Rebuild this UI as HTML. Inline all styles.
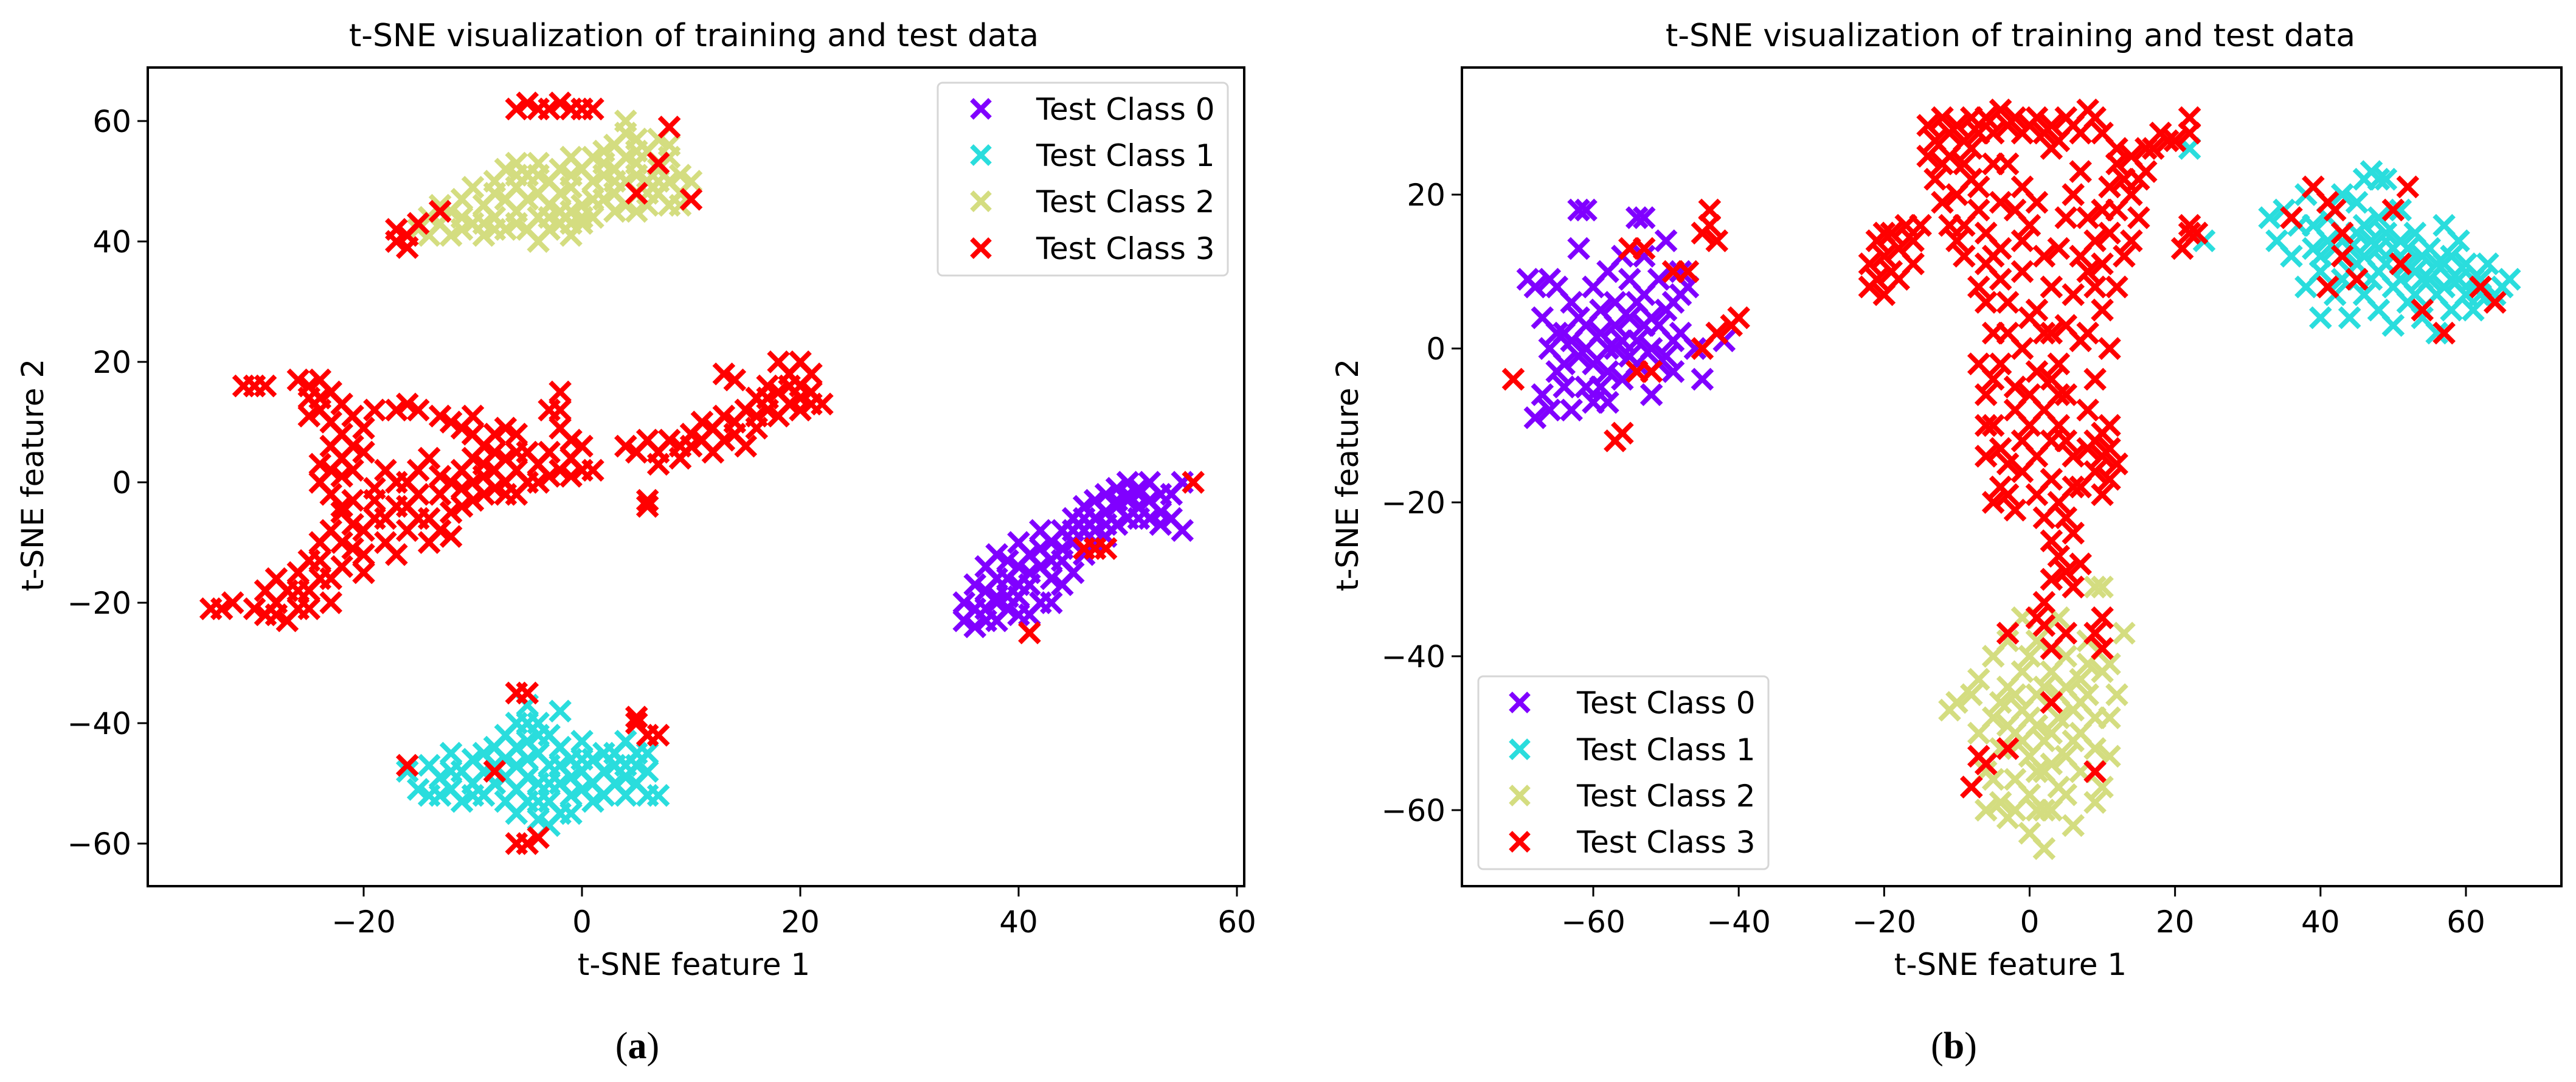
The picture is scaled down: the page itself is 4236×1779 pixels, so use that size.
<!DOCTYPE html>
<html><head><meta charset="utf-8"><style>
html,body{margin:0;padding:0;background:#fff;}
svg text{font-family:"DejaVu Sans","Liberation Sans",sans-serif;fill:#000;}
</style></head>
<body>
<svg id="fig" xmlns="http://www.w3.org/2000/svg" width="4236" height="1774" viewBox="0 0 4236 1774">
<rect width="4236" height="1774" fill="#fff"/>
</svg>
<script>
// ---------- Panel (a) data ----------
const aXTicks = [-20, 0, 20, 40, 60];
const aYTicks = [-60, -40, -20, 0, 20, 40, 60];
const aClass0 = [[35,-23],[35,-20],[36,-24],[36,-17],[37,-21],[37,-14],[38,-19],[38,-12],[38,-23],[39,-16],[39,-21],[40,-10],[40,-14],[40,-19],[41,-12],[41,-17],[41,-22],[42,-8],[42,-14],[42,-20],[43,-10],[43,-16],[44,-8],[44,-13],[45,-6],[45,-10],[45,-15],[46,-4],[46,-8],[46,-12],[47,-6],[47,-10],[48,-2],[48,-5],[48,-9],[49,-1],[49,-4],[49,-7],[50,0],[50,-3],[50,-6],[51,-1],[51,-4],[52,0],[52,-3],[52,-6],[53,-5],[54,-2],[54,-6],[55,-8],[55,0],[44,-17],[43,-20],
[36,-21],[37,-18],[38,-16],[39,-13],[39,-19],[40,-22],[41,-15],[42,-11],[43,-13],[44,-11],[45,-8],[46,-6],[47,-3],[47,-8],[48,-7],[49,-3],[50,-2],[51,-2],[51,-6],[53,-2],[53,-7],[40,-17],[38,-20],[37,-23]];
const aClass1 = [[-16,-48],[-15,-51],[-14,-47],[-14,-52],[-13,-49],[-12,-45],[-12,-51],[-11,-48],[-11,-53],[-10,-46],[-10,-50],[-9,-52],[-9,-48],[-8,-44],[-8,-50],[-7,-46],[-7,-42],[-7,-53],[-6,-40],[-6,-47],[-6,-51],[-6,-55],[-5,-37],[-5,-43],[-5,-49],[-5,-53],[-4,-40],[-4,-45],[-4,-50],[-4,-56],[-3,-42],[-3,-47],[-3,-53],[-2,-38],[-2,-44],[-2,-50],[-2,-55],[-1,-46],[-1,-52],[0,-43],[0,-48],[0,-51],[1,-46],[1,-50],[2,-48],[2,-52],[3,-45],[3,-50],[4,-43],[4,-47],[4,-52],[5,-45],[5,-50],[6,-48],[6,-52],[7,-52],[-3,-57],
[-13,-52],[-12,-48],[-10,-52],[-9,-45],[-8,-47],[-7,-49],[-6,-44],[-5,-46],[-4,-42],[-3,-50],[-2,-47],[-1,-49],[0,-46],[1,-53],[2,-45],[3,-47],[4,-49],[5,-47],[6,-45],[-4,-53],[-1,-55],[-5,-40]];
const aClass2 = [[-15,42],[-14,44],[-12,41],[-12,45],[-11,47],[-10,43],[-10,49],[-9,41],[-9,46],[-8,50],[-8,44],[-7,52],[-7,47],[-7,42],[-6,53],[-6,49],[-6,45],[-5,51],[-5,47],[-5,42],[-4,53],[-4,44],[-4,40],[-3,50],[-3,46],[-3,42],[-2,52],[-2,48],[-2,43],[-1,54],[-1,45],[-1,41],[0,52],[0,46],[0,43],[1,54],[1,50],[1,44],[2,55],[2,51],[2,47],[3,56],[3,52],[3,48],[3,45],[4,58],[4,54],[4,50],[4,46],[5,57],[5,53],[5,51],[6,55],[6,50],[6,46],[7,57],[7,52],[7,48],[8,54],[8,50],[8,46],[9,51],[9,48],[10,50],[-13,43],[-11,42],[-8,48],[-1,49],[5,45],[4,60],
[-14,41],[-13,46],[-11,44],[-9,43],[-8,42],[-6,43],[-6,51],[-4,48],[-4,51],[-3,44],[-2,45],[-1,43],[-1,51],[0,44],[1,47],[2,53],[3,50],[5,55],[6,48],[7,50],[8,56],[9,46]];
const aClass3 = [[-6,62],[-5,63],[-4,62],[-3,62],[-2,63],[-1,62],[0,62],[1,62],[-17,40],[-17,42],[-16,41],[-16,39],[-15,43],[-13,45],[5,48],[7,53],[8,59],[10,47],
[-34,-21],[-33,-21],[-32,-20],[-30,-21],[-29,-18],[-29,-22],[-28,-16],[-28,-20],[-27,-23],[-27,-18],[-26,-15],[-26,-21],[-25,-13],[-25,-18],[-24,-10],[-24,-16],[-23,-20],[-23,-8],[-22,-14],[-22,-5],[-21,-11],[-21,-3],[-20,-8],[-20,-15],[-19,-6],[-19,-1],[-18,-10],[-18,2],[-17,-4],[-17,-12],[-16,0],[-16,-8],[-15,2],[-15,-6],[-14,-10],[-14,4],[-13,-2],[-13,-8],[-12,0],[-12,-9],[-11,2],[-11,-4],[-10,4],[-10,0],[-9,6],[-9,-2],[-8,2],[-8,8],[-7,0],[-7,4],[-6,2],[-6,-2],[-6,8],[-5,0],[-5,5],[-4,3],[-3,5],[-3,12],[-2,15],[-2,9],[-2,2],[-1,4],[0,2],[0,6],[1,2],
[-31,16],[-30,16],[-29,16],[-26,17],[-25,16],[-25,14],[-24,17],[-24,12],[-23,15],[-23,10],[-22,13],[-22,8],[-21,11],[-21,6],[-20,9],[-24,3],[-24,0],[-23,2],[-23,-2],[-22,1],[-22,-4],[-17,12],[-16,13],[-15,12],[-13,11],[-12,10],[-11,9],[-10,8],[-10,11],[-7,9],[-8,-1],
[4,6],[5,5],[6,7],[7,5],[7,3],[8,7],[9,6],[10,8],[11,10],[12,5],[12,9],[13,11],[13,7],[14,10],[15,6],[15,12],[16,14],[16,9],[17,16],[17,12],[18,20],[18,15],[19,18],[19,13],[20,20],[20,16],[21,15],[21,18],[22,13],[13,18],[14,17],[6,-3],[6,-4],[20,12],[18,11],
[-28,-22],[-26,-18],[-25,-21],[-24,-13],[-23,-16],[-22,-10],[-21,-7],[-20,-12],[-19,-3],[-18,-6],[-17,0],[-16,-4],[-15,-2],[-14,-6],[-13,1],[-12,-5],[-11,-1],[-10,-3],[-9,1],[-8,5],[-7,-2],[-6,5],[-4,0],[-3,1],[-1,1],[-24,14],[-23,6],[-22,4],[-21,2],[-20,5],[-19,12],[-9,3],[-25,11],[-2,12],[-1,7],[9,4],[11,7],[14,8],[16,11],[17,14],[19,16],[20,14],[21,13],[10,6],
[46,-11],[47,-11],[48,-11],[41,-25],[56,0],
[-16,-47],[-8,-48],[-6,-35],[-5,-35],[5,-39],[5,-40],[6,-42],[7,-42],[-6,-60],[-5,-60],[-4,-59]];

// ---------- Panel (b) data ----------
const bXTicks = [-60, -40, -20, 0, 20, 40, 60];
const bYTicks = [-60, -40, -20, 0, 20];
const bClass0 = [[-62,18],[-61,18],[-54,17],[-53,17],[-62,13],[-69,9],[-68,8],[-66,9],[-65,8],[-67,4],[-66,0],[-65,-3],[-67,-6],[-68,-9],[-66,-8],[-64,-5],[-64,2],[-63,6],[-62,-1],[-62,4],[-61,0],[-60,8],[-60,-7],[-59,2],[-58,10],[-58,-3],[-57,6],[-57,0],[-56,12],[-56,-4],[-55,4],[-55,9],[-54,1],[-54,-2],[-53,7],[-53,12],[-52,0],[-52,-6],[-51,3],[-51,9],[-50,-1],[-50,14],[-49,6],[-49,-3],[-48,2],[-48,10],[-47,8],[-46,0],[-45,-4],[-43,2],[-42,1],[-63,-8],[-59,-5],
[-65,2],[-64,-2],[-63,1],[-61,3],[-60,-2],[-59,5],[-58,0],[-57,3],[-56,1],[-55,-1],[-54,6],[-53,3],[-52,4],[-51,-2],[-50,5],[-49,1],[-48,7],[-61,-5],[-58,-7]];
const bClass1 = [[33,17],[34,14],[35,18],[36,12],[37,16],[38,8],[38,20],[39,13],[40,4],[40,10],[41,17],[42,7],[42,13],[43,20],[44,4],[44,10],[45,15],[46,7],[46,12],[47,23],[48,5],[48,10],[48,17],[49,22],[50,3],[50,8],[50,13],[51,18],[52,6],[52,11],[53,15],[54,4],[54,9],[55,13],[56,2],[56,7],[57,11],[58,5],[58,9],[59,14],[60,7],[60,11],[61,5],[62,9],[63,11],[64,7],[65,8],[66,9],[45,19],[47,14],[53,10],[57,16],[24,14],[22,26],
[39,16],[40,12],[41,14],[43,9],[44,13],[45,11],[46,16],[47,9],[48,13],[49,11],[49,15],[51,9],[51,14],[52,13],[53,7],[54,12],[55,9],[56,11],[57,8],[58,12],[59,9],[61,9],[62,7],[48,22],[46,22]];
const bClass2 = [[-11,-47],[-10,-46],[-8,-45],[-7,-43],[-7,-50],[-6,-55],[-5,-40],[-5,-48],[-4,-59],[-4,-52],[-3,-44],[-3,-38],[-2,-50],[-2,-56],[-2,-60],[-1,-42],[-1,-47],[-1,-35],[0,-53],[0,-58],[0,-63],[1,-45],[1,-49],[1,-38],[2,-55],[2,-60],[2,-65],[3,-42],[3,-50],[4,-45],[4,-35],[4,-57],[5,-40],[5,-53],[6,-47],[6,-62],[7,-43],[7,-50],[7,-55],[8,-38],[8,-45],[9,-31],[9,-52],[10,-42],[10,-57],[11,-48],[11,-53],[12,-45],[13,-37],[-8,-57],[-6,-60],[-3,-61],[9,-59],
[-4,-46],[-3,-49],[-2,-45],[-1,-51],[0,-48],[0,-40],[1,-55],[2,-44],[2,-51],[3,-54],[4,-48],[5,-44],[5,-58],[6,-51],[7,-46],[8,-41],[9,-48],[10,-31],[11,-41],[-5,-56],[1,-60],[3,-60]];
const bClass3 = [[-71,-4],[-57,-12],[-56,-11],[-55,13],[-53,13],[-52,-3],[-54,-3],[-49,10],[-47,10],[-45,15],[-44,16],[-44,18],[-43,14],[-43,2],[-41,3],[-40,4],[-45,0],
[36,17],[39,21],[41,19],[42,18],[43,15],[43,12],[41,8],[45,9],[51,11],[50,18],[52,21],[54,5],[57,2],[62,8],[64,6],
[-8,-57],[-7,-53],[-6,-54],[-3,-52],[-3,-37],[3,-39],[3,-46],[5,-37],[9,-55],[9,-37],[10,-35],[10,-39],
[-14,29],[-13,27],[-12,30],[-11,28],[-10,29],[-9,27],[-8,30],[-7,28],[-6,30],[-5,28],[-4,31],[-3,29],[-2,30],[-1,28],[0,29],[1,30],[2,28],[3,29],[4,27],[5,30],[6,29],[7,28],[8,31],[9,30],[10,28],[12,26],[14,25],[16,26],[18,28],[19,27],[20,27],[22,28],[22,30],
[-14,25],[-13,22],[-12,19],[-11,16],[-10,14],[-9,12],[-12,24],[-15,16],[-16,14],[-17,16],[-18,13],[-19,10],[-20,12],[-21,9],[-22,8],[-21,14],[-20,7],[-19,15],[-18,9],[-22,11],
[-8,22],[-7,18],[-6,15],[-5,12],[-4,9],[-3,6],[-2,18],[-3,24],[-1,21],[0,16],[1,19],[2,12],[3,8],[-6,6],[-5,2],[-4,-2],[-6,-6],[-5,-10],[-6,-14],[-4,-18],[-5,-20],[-2,-21],[-3,-15],[-2,-5],[-1,0],[0,4],[1,-3],[2,-8],[3,-12],[0,-10],[-1,-16],[1,-19],[2,-22],[3,-17],[4,-2],[5,3],[6,7],[5,-6],[7,1],[8,10],[9,14],[10,18],[11,21],[12,24],[13,22],[14,20],[15,17],[16,23],[10,5],[11,0],[12,8],[13,12],[9,-4],[8,-8],[9,-12],[10,-14],[11,-10],[11,-17],[10,-19],[12,-15],[6,-14],[4,-10],[7,-18],[5,-22],[3,-25],[4,-27],[5,-29],[6,-31],[7,-28],[2,-33],[1,-35],[4,13],[-1,10],[22,15],[23,15],[21,13],[22,16],[4,-6],[2,2],[7,12],[6,20],[5,17],[3,26],[-9,24],[-10,20],[7,23],
[-11,25],[-8,26],[-5,24],[-7,21],[-4,19],[-6,11],[-7,8],[-5,-4],[-7,-2],[-6,-10],[-4,-13],[-3,-19],[-1,-12],[0,-6],[1,5],[3,2],[3,-4],[5,-12],[6,-18],[8,-13],[9,-16],[10,-11],[11,-13],[8,2],[9,8],[10,11],[11,15],[12,18],[14,14],[8,17],[-1,14],[1,-14],[-2,-8],[4,-20],[6,-24],[3,-30],[2,-36],[-3,2],[-4,13],[-9,16],[-16,11],[-20,15],[17,26],[15,22]];

const classColors = ['#8000ff', '#2adddd', '#d4dd80', '#ff0000'];
const legendLabels = ['Test Class 0', 'Test Class 1', 'Test Class 2', 'Test Class 3'];

const NS = 'http://www.w3.org/2000/svg';
const svg = document.getElementById('fig');
function mk(tag, attrs, parent) {
  const e = document.createElementNS(NS, tag);
  for (const k in attrs) e.setAttribute(k, attrs[k]);
  (parent || svg).appendChild(e);
  return e;
}
function xMark(g, cx, cy, r, color, w) {
  return mk('path', {d: `M${cx-r},${cy-r}L${cx+r},${cy+r}M${cx-r},${cy+r}L${cx+r},${cy-r}`, stroke: color, 'stroke-width': w, fill: 'none'}, g);
}

function panel(cfg) {
  const {key, left, right, top, bottom, x0px, xUnit, y0px, yUnit, xTicks, yTicks, series, legend, letter, titleX} = cfg;
  const sx = v => x0px + v * xUnit;
  const sy = v => y0px - v * yUnit;
  const g = mk('g', {});
  
  

  const title = mk('text', {x: titleX, y: 76, 'font-size': 52, 'text-anchor': 'middle'}, g);
  title.textContent = 't-SNE visualization of training and test data';
  
  

  const pts = mk('g', {}, g);
  
  
  series.forEach((arr, ci) => {
    const sg = mk('g', {}, pts);
    
    
    arr.forEach(p => {
      const m = xMark(sg, sx(p[0]), sy(p[1]), 16, classColors[ci], 8);
      
      
    });
  });

  const frame = mk('rect', {x: left, y: top, width: right - left, height: bottom - top, fill: 'none', stroke: '#000', 'stroke-width': 4}, g);
  
  

  xTicks.forEach(t => {
    const x = sx(t);
    const tk = mk('line', {x1: x, y1: bottom, x2: x, y2: bottom + 17, stroke: '#000', 'stroke-width': 3}, g);
    
    
    const tl = mk('text', {x: x, y: 1533, 'font-size': 50, 'text-anchor': 'middle'}, g);
    tl.textContent = t < 0 ? '\u2212' + (-t) : String(t);
    
    
  });
  yTicks.forEach(t => {
    const y = sy(t);
    const tk = mk('line', {x1: left - 17, y1: y, x2: left, y2: y, stroke: '#000', 'stroke-width': 3}, g);
    
    
    const tl = mk('text', {x: left - 27, y: y + 18, 'font-size': 50, 'text-anchor': 'end'}, g);
    tl.textContent = t < 0 ? '\u2212' + (-t) : String(t);
    
    
  });

  const xl = mk('text', {x: titleX, y: 1603, 'font-size': 50, 'text-anchor': 'middle'}, g);
  xl.textContent = 't-SNE feature 1';
  
  
  const ylx = cfg.ylabelX, yly = 781;
  const yl = mk('text', {x: ylx, y: yly, 'font-size': 50, 'text-anchor': 'middle', transform: `rotate(-90 ${ylx} ${yly})`, dy: 17}, g);
  yl.textContent = 't-SNE feature 2';
  
  

  const lg = mk('g', {}, g);
  
  
  mk('rect', {x: legend.x, y: legend.y, width: legend.w, height: legend.h, rx: 8, fill: '#fff', 'fill-opacity': 0.8, stroke: '#d6d6d6', 'stroke-width': 3}, lg);
  legendLabels.forEach((lab, i) => {
    const cy = legend.rowY[i];
    const e = mk('g', {}, lg);
    
    
    xMark(e, legend.mx, cy, 15, classColors[i], 8);
    const t = mk('text', {x: legend.tx, y: cy + 18, 'font-size': 50}, e);
    t.textContent = lab;
  });

  const cap = mk('text', {x: titleX - 93, y: 1740, 'font-size': 62, 'text-anchor': 'middle'}, g);
  cap.setAttribute('style', 'font-family:"Liberation Serif",serif');
  cap.innerHTML = '(<tspan font-weight="bold">' + letter + '</tspan>)';
  
  
}

panel({key: 'a', left: 243, right: 2046, top: 111, bottom: 1457,
  x0px: 957, xUnit: 359 / 20, y0px: 793, yUnit: 9.9,
  xTicks: aXTicks, yTicks: aYTicks, series: [aClass0, aClass1, aClass2, aClass3],
  legend: {x: 1542, y: 136, w: 477, h: 317, rowY: [179, 255, 331, 408], mx: 1613, tx: 1704},
  letter: 'a', titleX: 1141, ylabelX: 54});

panel({key: 'b', left: 2404, right: 4212, top: 111, bottom: 1457,
  x0px: 3337.5, xUnit: 1435 / 120, y0px: 573, yUnit: 253 / 20,
  xTicks: bXTicks, yTicks: bYTicks, series: [bClass0, bClass1, bClass2, bClass3],
  legend: {x: 2431, y: 1112, w: 477, h: 317, rowY: [1155, 1232, 1308, 1384], mx: 2499, tx: 2593},
  letter: 'b', titleX: 3306, ylabelX: 2216});
</script>
</body></html>
